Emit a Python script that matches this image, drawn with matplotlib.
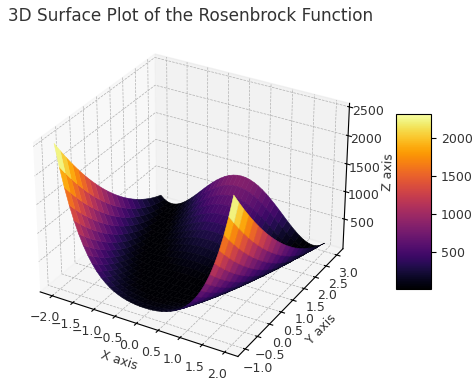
import numpy as np
import matplotlib
matplotlib.use("Agg")
import matplotlib.pyplot as plt

x_even = [-2.0, -1.8, -1.6, -1.4, -1.2, -1.0, -0.8, -0.6, -0.4, -0.2, 0.0, 0.2, 0.4, 0.6, 0.8, 1.0, 1.2, 1.4, 1.6, 1.8, 2.0]
x_odd = [-1.9, -1.7, -1.5, -1.3, -1.1, -0.9, -0.7, -0.5, -0.3, -0.1, 0.1, 0.3, 0.5, 0.7, 0.9, 1.1, 1.3, 1.5, 1.7, 1.9]
y_vals = [-1.0, -0.8, -0.6, -0.4, -0.2, 0.0, 0.2, 0.4, 0.6, 0.8, 1.0, 1.2, 1.4, 1.6, 1.8, 2.0, 2.2, 2.4, 2.6, 2.8, 3.0]

# surface heights along x_even, one row per y value
z_even = [
    [2509, 1806, 1274, 882, 600, 404, 272, 188, 137, 109, 101, 109, 135, 185, 269, 400, 595, 876, 1267, 1799, 2501],
    [2313, 1640, 1136, 768, 507, 328, 210, 138, 94, 72, 65, 72, 92, 135, 207, 324, 502, 762, 1129, 1633, 2305],
    [2125, 1483, 1006, 661, 421, 260, 157, 95, 60, 42, 37, 42, 58, 92, 154, 256, 416, 655, 999, 1476, 2117],
    [1945, 1333, 883, 563, 344, 200, 111, 61, 33, 20, 17, 20, 31, 58, 108, 196, 339, 557, 876, 1326, 1937],
    [1773, 1191, 769, 473, 274, 148, 74, 34, 15, 7, 5, 6, 13, 31, 71, 144, 269, 467, 762, 1184, 1765],
    [1609, 1058, 662, 390, 212, 104, 44, 16, 5, 2, 1, 1, 3, 13, 41, 100, 207, 384, 655, 1050, 1601],
    [1453, 932, 564, 316, 159, 68, 22, 5, 2, 4, 5, 4, 1, 3, 19, 64, 154, 310, 557, 925, 1445],
    [1305, 815, 474, 249, 113, 40, 9, 3, 8, 14, 17, 14, 6, 0, 6, 36, 108, 243, 467, 808, 1297],
    [1165, 705, 391, 191, 76, 20, 3, 8, 21, 33, 37, 32, 20, 6, 0, 16, 71, 185, 384, 698, 1157],
    [1033, 603, 317, 140, 46, 8, 6, 22, 43, 59, 65, 58, 41, 19, 3, 4, 41, 135, 310, 596, 1025],
    [909, 510, 250, 98, 24, 4, 16, 44, 73, 94, 101, 93, 71, 41, 13, 0, 19, 92, 243, 503, 901],
    [793, 424, 192, 64, 11, 8, 34, 74, 110, 136, 145, 135, 108, 71, 31, 4, 6, 58, 185, 417, 785],
    [685, 347, 142, 37, 5, 20, 61, 111, 156, 186, 197, 185, 154, 108, 58, 16, 0, 31, 135, 340, 677],
    [585, 277, 99, 19, 8, 40, 95, 157, 209, 244, 257, 243, 207, 154, 92, 36, 3, 13, 92, 270, 577],
    [493, 215, 65, 8, 18, 68, 138, 210, 271, 311, 325, 310, 269, 207, 135, 64, 13, 3, 58, 208, 485],
    [409, 162, 38, 6, 36, 104, 188, 272, 341, 385, 401, 385, 339, 269, 185, 100, 31, 0, 31, 155, 401],
    [333, 116, 20, 12, 63, 148, 246, 342, 418, 468, 485, 467, 416, 339, 243, 144, 58, 6, 13, 109, 325],
    [265, 79, 10, 25, 97, 200, 313, 419, 504, 558, 577, 557, 502, 416, 310, 196, 92, 19, 3, 72, 257],
    [205, 49, 7, 47, 140, 260, 387, 505, 597, 656, 677, 655, 595, 502, 384, 256, 135, 41, 0, 42, 197],
    [153, 27, 13, 77, 190, 328, 470, 598, 699, 763, 785, 762, 697, 595, 467, 324, 185, 71, 6, 20, 145],
    [109, 14, 26, 114, 248, 404, 560, 700, 809, 877, 901, 877, 807, 697, 557, 400, 243, 108, 19, 7, 101],
]

# surface heights along x_odd, one row per y value
z_odd = [
    [2133, 1520, 1062, 729, 492, 332, 225, 158, 121, 103, 103, 119, 156, 222, 328, 488, 724, 1056, 1513, 2126],
    [1953, 1369, 936, 625, 408, 263, 169, 112, 81, 67, 67, 79, 110, 166, 259, 404, 620, 930, 1362, 1946],
    [1780, 1225, 818, 529, 332, 203, 122, 74, 50, 38, 38, 48, 72, 119, 199, 328, 524, 812, 1218, 1773],
    [1616, 1089, 708, 442, 263, 150, 82, 44, 26, 18, 18, 24, 42, 79, 146, 259, 437, 702, 1082, 1609],
    [1460, 962, 606, 362, 203, 106, 51, 22, 10, 5, 5, 8, 20, 48, 102, 199, 357, 600, 955, 1453],
    [1311, 842, 512, 291, 150, 70, 27, 8, 3, 1, 1, 1, 6, 24, 66, 146, 286, 506, 835, 1304],
    [1171, 731, 426, 227, 106, 41, 11, 2, 3, 5, 5, 1, 0, 8, 37, 102, 222, 420, 724, 1164],
    [1038, 627, 348, 171, 70, 21, 4, 4, 12, 16, 16, 10, 2, 1, 17, 66, 166, 342, 620, 1031],
    [914, 531, 278, 124, 41, 8, 4, 14, 28, 36, 36, 26, 12, 1, 4, 37, 119, 272, 524, 907],
    [798, 444, 216, 84, 21, 4, 13, 32, 52, 63, 63, 50, 30, 10, 0, 17, 79, 210, 437, 791],
    [689, 364, 162, 53, 8, 8, 29, 58, 85, 99, 99, 83, 56, 26, 4, 4, 48, 156, 357, 682],
    [589, 293, 116, 29, 4, 19, 53, 92, 125, 143, 143, 123, 90, 50, 15, 0, 24, 110, 286, 582],
    [496, 229, 78, 13, 8, 39, 86, 134, 174, 194, 194, 172, 132, 83, 35, 4, 8, 72, 222, 489],
    [412, 173, 48, 6, 19, 66, 126, 184, 230, 254, 254, 228, 182, 123, 62, 15, 1, 42, 166, 405],
    [336, 126, 26, 6, 39, 102, 175, 242, 294, 321, 321, 292, 240, 172, 98, 35, 1, 20, 119, 329],
    [267, 86, 12, 15, 66, 146, 231, 308, 367, 397, 397, 365, 306, 228, 142, 62, 10, 6, 79, 260],
    [207, 55, 6, 31, 102, 197, 295, 382, 447, 481, 481, 445, 380, 292, 193, 98, 26, 0, 48, 200],
    [154, 31, 8, 55, 146, 257, 368, 464, 536, 572, 572, 534, 462, 365, 253, 142, 50, 2, 24, 147],
    [110, 15, 18, 88, 197, 324, 448, 554, 632, 672, 672, 630, 552, 445, 320, 193, 83, 12, 8, 103],
    [74, 8, 36, 128, 257, 400, 537, 652, 736, 779, 779, 734, 650, 534, 396, 253, 123, 30, 1, 67],
    [45, 8, 62, 177, 324, 484, 633, 758, 849, 895, 895, 847, 756, 630, 480, 320, 172, 56, 1, 38],
]

x_ticks = [-2.0, -1.5, -1.0, -0.5, 0.0, 0.5, 1.0, 1.5, 2.0]
y_ticks = [-1.0, -0.5, 0.0, 0.5, 1.0, 1.5, 2.0, 2.5, 3.0]
z_ticks = [500, 1000, 1500, 2000, 2500]
cbar_ticks = [500, 1000, 1500, 2000]

plt.rcParams["font.size"] = 9
plt.rcParams["text.color"] = "#333333"
plt.rcParams["axes.labelcolor"] = "#333333"
plt.rcParams["xtick.labelcolor"] = "#333333"
plt.rcParams["ytick.labelcolor"] = "#333333"
plt.rcParams["grid.linestyle"] = "--"
plt.rcParams["grid.linewidth"] = 0.5

# weave the two tables into one grid
x_all = np.empty(len(x_even) + len(x_odd))
x_all[0::2] = x_even
x_all[1::2] = x_odd
Z = np.empty((len(y_vals), len(x_all)))
Z[:, 0::2] = z_even
Z[:, 1::2] = z_odd
X, Y = np.meshgrid(x_all, y_vals)

fig = plt.figure(figsize=(4.74, 3.88), dpi=100)
ax = fig.add_axes([-0.04, 0.024, 0.88, 0.907], projection="3d")
surf = ax.plot_surface(X, Y, Z, cmap="inferno", linewidth=0.4, rstride=1, cstride=1, vmin=13, vmax=2316)
# paint the edges like the faces so no seams show between facets
surf.set_edgecolor(surf.to_rgba(surf.get_array()))
ax.set_xticks(x_ticks)
ax.set_yticks(y_ticks)
ax.set_zticks(z_ticks)
ax.set_xlabel("X axis", labelpad=-2)
ax.set_ylabel("Y axis", labelpad=-2)
ax.set_zlabel("Z axis", labelpad=-2)
ax.tick_params(pad=0)

cax = fig.add_axes([396 / 474, 1 - 289 / 388, 35 / 474, 175 / 388])
fig.colorbar(surf, cax=cax, ticks=cbar_ticks)

fig.text(8 / 474, 1 - 21 / 388, "3D Surface Plot of the Rosenbrock Function", fontsize=12.2)
fig.savefig("out.png", dpi=100)
